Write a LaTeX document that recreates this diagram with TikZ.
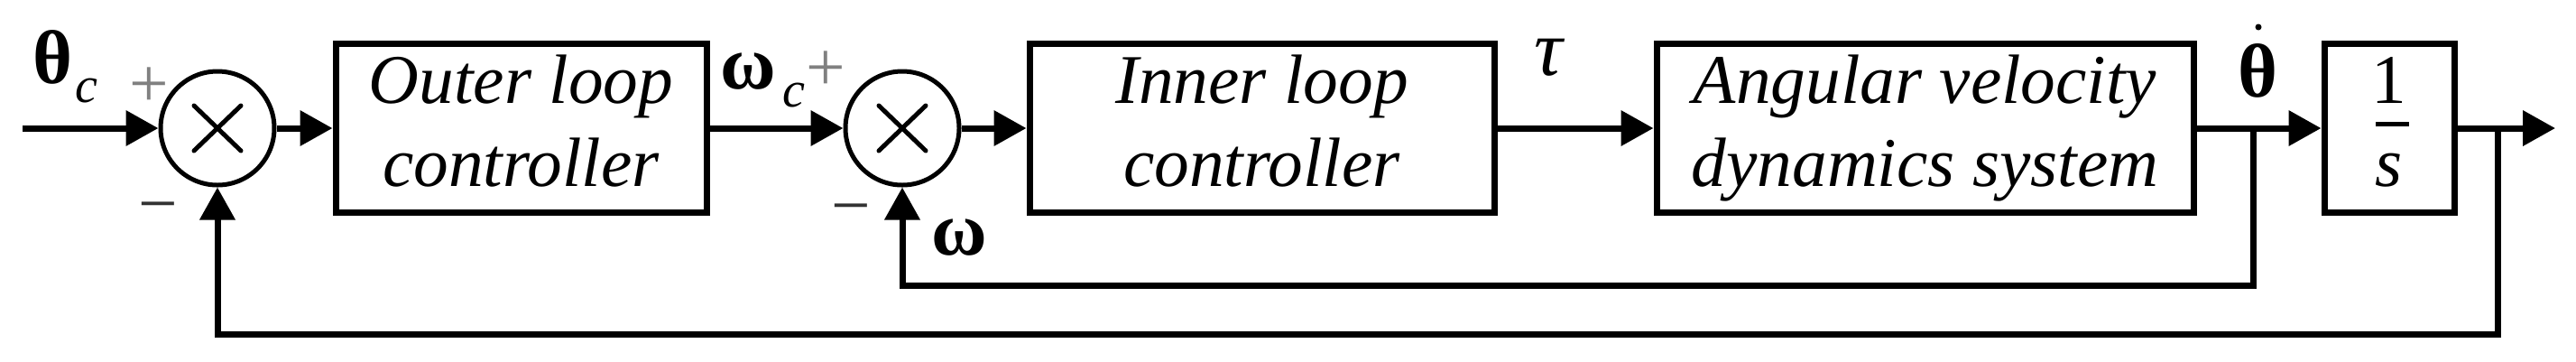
\documentclass[tikz,border=0pt]{standalone}
\usepackage{fontspec}
\setmainfont{Liberation Serif}
\usetikzlibrary{arrows.meta,shapes}

\begin{document}
\begin{tikzpicture}[auto, thick,
		block/.style={draw, line width=0.07cm, minimum height=1.87cm, inner sep=0pt, align=center, font=\fontsize{22}{26.2}\selectfont\itshape},
		sumnode/.style={draw, circle, line width=0.05cm, minimum size=1.26cm, inner sep=0pt},
		sig/.style={line width=0.07cm, -{Triangle[length=0.36cm,width=0.38cm]}},
		lab/.style={inner sep=0pt, font=\fontsize{24}{28}\selectfont},
		sign/.style={inner sep=0pt, font=\fontsize{22}{26}\selectfont}]
		\useasboundingbox (0,0) rectangle (28.55,4);
		% summing junctions
		\node[sumnode] (s1) at (2.41,2.58) {};
		\node[sumnode] (s2) at (10.00,2.58) {};
		\foreach \s in {s1,s2}
			\draw[line width=0.05cm, line cap=round, shift={(\s)}] (-0.26,-0.25) -- (0.26,0.25) (-0.26,0.25) -- (0.26,-0.25);
		% blocks
		\node[block, minimum width=4.11cm] (outer) at (5.775,2.58) {Outer loop\strut\\controller\strut};
		\node[block, minimum width=5.15cm] (inner) at (13.985,2.58) {Inner loop\strut\\controller\strut};
		\node[block, minimum width=5.95cm] (plant) at (21.335,2.58) {Angular velocity\strut\\dynamics system\strut};
		\node[block, minimum width=1.44cm] (integ) at (26.48,2.58) {\textup{1}\strut\\s\strut};
		\draw[line width=0.05cm, shift={(integ.center)}] (-0.15,0.05) -- (0.22,0.05);
		% signals
		\coordinate (in) at (0.25,2.58);
		\coordinate (out) at (28.32,2.58);
		\coordinate (b1) at (24.97,2.58);
		\coordinate (fb1) at (24.97,0.84);
		\coordinate (b2) at (27.68,2.58);
		\coordinate (fb2) at (27.68,0.30);
		\draw[sig] (in) -- (s1.west);
		\draw[sig] (s1.east) -- (outer.west);
		\draw[sig] (outer.east) -- (s2.west);
		\draw[sig] (s2.east) -- (inner.west);
		\draw[sig] (inner.east) -- (plant.west);
		\draw[sig] (plant.east) -- (integ.west);
		\draw[sig] (integ.east) -- (out);
		% feedback
		\draw[sig] (b1) -- (fb1) -| (s2.south);
		\draw[sig] (b2) -- (fb2) -| (s1.south);
		% labels
		\node[lab, anchor=base west] (thc) at (0.35,3.08) {\textbf{θ}\hspace{0.03cm}\raisebox{-0.21cm}{\fontsize{16}{18}\selectfont\textit{c}}};
		\node[sign, text=gray] (p1) at (1.65,3.03) {+};
		\node[sign, text=black!80] (m1) at (1.75,1.62) {−};
		\node[lab, anchor=base west] (wc) at (7.97,3.02) {\textbf{ω}\hspace{0.07cm}\raisebox{-0.20cm}{\fontsize{16}{18}\selectfont\textit{c}}};
		\node[sign, text=gray] (p2) at (9.15,3.21) {+};
		\node[sign, text=black!80] (m2) at (9.43,1.60) {−};
		\node[lab, anchor=base] (w) at (10.63,1.18) {\textbf{ω}};
		\node[lab, anchor=base, font=\fontsize{25}{29}\selectfont] (tau) at (17.18,3.17) {\textit{τ}};
		\node[lab, anchor=base] (thd) at (25.02,2.93) {\textbf{θ}};
		\fill (25.03,3.70) circle (0.035);
	\end{tikzpicture}
\end{document}
